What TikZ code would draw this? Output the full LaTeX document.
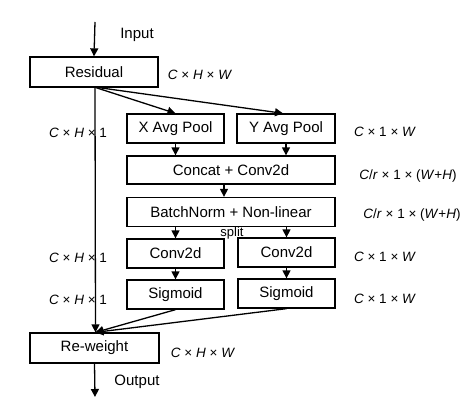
\documentclass[tikz,border=0pt]{standalone}
\usepackage{fontspec}
\setmainfont{Liberation Sans}
\usetikzlibrary{arrows.meta}

\begin{document}
\begin{tikzpicture}[x=1pt, y=-1pt,
  blk/.style={draw, line width=1.3pt, inner sep=0pt, font=\fontsize{15}{18}\selectfont},
  dimlbl/.style={inner sep=0pt, font=\fontsize{13.5}{16}\selectfont},
  flow/.style={line width=1.3pt, -{Triangle[length=8pt, width=8pt]}}]
\useasboundingbox (0,0) rectangle (474,412);
% Blocks
\node [blk, minimum width=128pt, minimum height=30pt] (res) at (94,72) {Residual};
\node [blk, minimum width=97pt, minimum height=29pt] (xpool) at (175.5,128.5) {X Avg Pool};
\node [blk, minimum width=98pt, minimum height=29pt] (ypool) at (286,128.5) {Y Avg Pool};
\node [blk, minimum width=208pt, minimum height=28pt] (cat) at (231,170) {Concat + Conv2d};
\node [blk, minimum width=208pt, minimum height=29pt] (bn) at (231,212) {BatchNorm + Non-linear};
\node [blk, minimum width=97pt, minimum height=29pt] (convx) at (175.5,253.5) {Conv2d};
\node [blk, minimum width=97pt, minimum height=29pt] (convy) at (286.5,252.5) {Conv2d};
\node [blk, minimum width=97pt, minimum height=29pt] (sigx) at (175.5,294.5) {Sigmoid};
\node [blk, minimum width=97pt, minimum height=29pt] (sigy) at (286.5,293.5) {Sigmoid};
\node [blk, minimum width=129pt, minimum height=30pt] (rew) at (94.5,348) {Re-weight};
% In / out
\coordinate (in) at (95,22);
\coordinate (out) at (95,397);
\node [dimlbl, font=\fontsize{15}{18}\selectfont] (intxt) at (137,35) {Input};
\node [dimlbl, font=\fontsize{15}{18}\selectfont] (outtxt) at (137,382) {Output};
\node [dimlbl, font=\fontsize{13}{15}\selectfont] (split) at (232,233) {split};
% Sizes
\node [dimlbl] (d1) at (200,75) {\textit{C} × \textit{H} × \textit{W}};
\node [dimlbl] (d2) at (78,133) {\textit{C} × \textit{H} × 1};
\node [dimlbl] (d3) at (385,132) {\textit{C} × 1 × \textit{W}};
\node [dimlbl] (d4) at (408,176) {\textit{C}/\textit{r} × 1 × (\textit{W}+\textit{H})};
\node [dimlbl] (d5) at (412,215) {\textit{C}/\textit{r} × 1 × (\textit{W}+\textit{H})};
\node [dimlbl] (d6) at (78,258) {\textit{C} × \textit{H} × 1};
\node [dimlbl] (d7) at (385,257) {\textit{C} × 1 × \textit{W}};
\node [dimlbl] (d8) at (78,300) {\textit{C} × \textit{H} × 1};
\node [dimlbl] (d9) at (385,299) {\textit{C} × 1 × \textit{W}};
\node [dimlbl] (d10) at (203,353) {\textit{C} × \textit{H} × \textit{W}};
% Connectors
\draw [flow] (in) -- (res.north);
\draw [flow] ([xshift=1pt]res.south) -- ([xshift=1pt]rew.north);
\draw [flow] ([xshift=2pt]res.south) -- (xpool.north);
\draw [flow] ([xshift=5pt]res.south) -- ([xshift=-3pt]ypool.north);
\draw [flow] (xpool.south) -- (xpool.south |- cat.north);
\draw [flow] (ypool.south) -- (ypool.south |- cat.north);
\draw [flow] ([xshift=-7pt]cat.south) -- ([xshift=-7pt]bn.north);
\draw [flow] (convx.north |- bn.south) -- (convx.north);
\draw [flow] (convy.north |- bn.south) -- (convy.north);
\draw [flow] (convx.south) -- (sigx.north);
\draw [flow] (convy.south) -- (sigy.north);
\draw [flow] (sigx.south) -- ([xshift=1pt]rew.north);
\draw [flow] (sigy.south) -- ([xshift=1pt]rew.north);
\draw [flow] (rew.south) -- (out);
\end{tikzpicture}
\end{document}
